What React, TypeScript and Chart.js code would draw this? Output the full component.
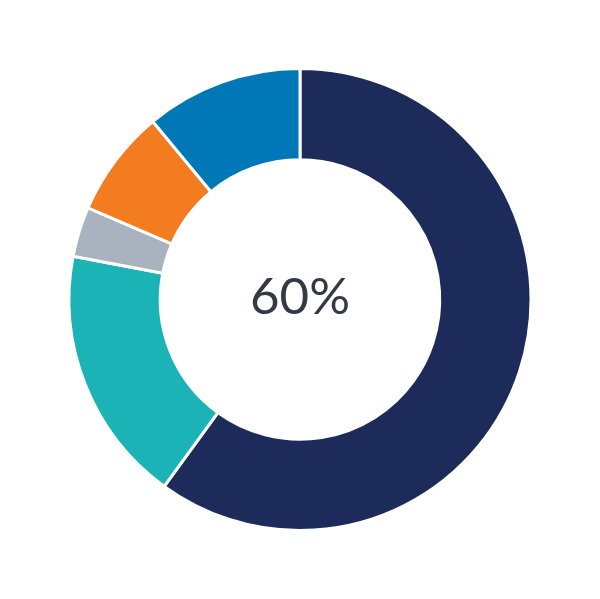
import { useEffect, useRef } from "react";
import { Chart, registerables } from "chart.js";

Chart.register(...registerables);

const labels = ["Navy", "Teal", "Grey", "Orange", "Blue"];
const values = [60, 18, 3.5, 7.5, 11];
const colors = ["#1c2b5a", "#1bb3b5", "#a9b3bf", "#f37b20", "#0077b6"];
const centerLabel = "60%";

// draws the big percentage in the hole
const centerText = {
  id: "centerText",
  afterDraw(chart: Chart) {
    const { ctx, chartArea } = chart;
    const x = (chartArea.left + chartArea.right) / 2;
    const y = (chartArea.top + chartArea.bottom) / 2;
    ctx.save();
    ctx.font = "400 51px Lato";
    ctx.fillStyle = "#333a45";
    ctx.textAlign = "center";
    ctx.textBaseline = "middle";
    ctx.fillText(centerLabel, x, y - 2);
    ctx.restore();
  },
};

export default function App() {
  const chartRef = useRef<HTMLCanvasElement>(null);
  const chartInstance = useRef<Chart | null>(null);

  useEffect(() => {
    if (!chartRef.current) return;
    document.body.style.margin = "0";

    if (chartInstance.current) {
      chartInstance.current.destroy();
    }

    chartInstance.current = new Chart(chartRef.current, {
      type: "doughnut",
      data: {
        labels,
        datasets: [
          {
            data: values,
            backgroundColor: colors,
            borderColor: "#ffffff",
            borderWidth: 3,
          },
        ],
      },
      options: {
        responsive: false,
        animation: false,
        cutout: "60.5%",
        layout: { padding: 67 },
        plugins: {
          legend: { display: false },
          tooltip: { enabled: false },
        },
      },
      plugins: [centerText],
    });

    return () => {
      if (chartInstance.current) {
        chartInstance.current.destroy();
        chartInstance.current = null;
      }
    };
  }, []);

  return (
    <div style={{ width: 600, height: 599, background: "#fff" }}>
      <canvas ref={chartRef} width={600} height={599} />
    </div>
  );
}
